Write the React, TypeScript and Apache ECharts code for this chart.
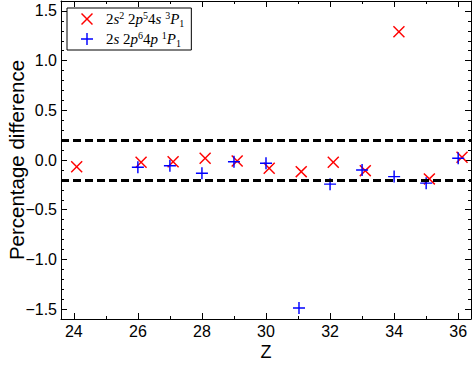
import React, { useEffect, useRef } from "react";
import * as echarts from "echarts";

// Data
const redZ = [24.09, 26.1, 27.1, 28.1, 29.1, 30.1, 31.1, 32.1, 33.1, 34.15, 35.1, 36.12];
const redVals = [-0.067, -0.023, -0.017, 0.017, -0.01, -0.083, -0.117, -0.023, -0.107, 1.29, -0.19, 0.027];
const blueZ = [26.0, 27.0, 28.0, 29.0, 30.0, 31.03, 32.0, 33.0, 34.0, 35.0, 36.0];
const blueVals = [-0.073, -0.057, -0.133, -0.017, -0.033, -1.49, -0.243, -0.1, -0.167, -0.233, 0.017];
const thresholds = [0.2, -0.2];

// Tick labels
const xTicks = [24, 26, 28, 30, 32, 34, 36];
const yTicks = [-1.5, -1.0, -0.5, 0.0, 0.5, 1.0, 1.5];
const xMinorTicks = [24, 25, 26, 27, 28, 29, 30, 31, 32, 33, 34, 35, 36];
const yMinorTicks: number[] = [];
for (let k = -15; k <= 15; k++) yMinorTicks.push(k / 10);

const seriesNames = ["2s2 2p5 4s 3P1", "2s 2p6 4p 1P1"];

const X_PATH =
  "path://M0,0.85L0.85,0L5,4.15L9.15,0L10,0.85L5.85,5L10,9.15L9.15,10L5,5.85L0.85,10L0,9.15L4.15,5Z";
const PLUS_PATH =
  "path://M4.4,0h1.2v4.4h4.4v1.2h-4.4v4.4h-1.2v-4.4h-4.4v-1.2h4.4z";

const SANS = "Liberation Sans, Arial, sans-serif";
const SERIF = "Liberation Serif, Times New Roman, serif";

export default function App() {
  const ref = useRef<HTMLDivElement>(null);
  useEffect(() => {
    const chart = echarts.init(ref.current!, null, { renderer: "svg" });
    const fmtY = (v: number) => Number(v).toFixed(1).replace("-", "\u2212");
    const fmtX = (v: number) => String(Math.round(Number(v)));
    const axisLine = { show: true, onZero: false, lineStyle: { color: "#000", width: 1 } };
    const xBase = { type: "value", min: 23.6, max: 36.4, splitLine: { show: false } };
    const yBase = { type: "value", min: -1.6, max: 1.6, splitLine: { show: false } };
    const tick = (len: number, vals: number[]) => ({
      show: true,
      inside: true,
      length: len,
      customValues: vals,
      lineStyle: { color: "#000", width: 1 },
    });

    const rich = {
      n: { fontFamily: SERIF, fontSize: 15, color: "#000", lineHeight: 18 },
      i: { fontFamily: SERIF, fontSize: 15, fontStyle: "italic", color: "#000", lineHeight: 18 },
      sup: { fontFamily: SERIF, fontSize: 10, color: "#000", verticalAlign: "top", lineHeight: 18, padding: [0, 0, 5, 0] },
      sub: { fontFamily: SERIF, fontSize: 10, color: "#000", verticalAlign: "bottom", lineHeight: 18, padding: [4, 0, 0, 0] },
    };
    const legendText: Record<string, string> = {
      [seriesNames[0]]: "{n|2}{i|s}{sup|2}{n| 2}{i|p}{sup|5}{n|4}{i|s}{n| }{sup|3}{i|P}{sub|1}",
      [seriesNames[1]]: "{n|2}{i|s}{n| 2}{i|p}{sup|6}{n|4}{i|p}{n| }{sup|1}{i|P}{sub|1}",
    };

    chart.setOption({
      animation: false,
      backgroundColor: "#fff",
      grid: { left: 61, right: 3, top: 1, bottom: 51, containLabel: false, outerBoundsMode: "none" },
      legend: {
        left: 67,
        top: 8,
        orient: "vertical",
        borderColor: "#000",
        borderWidth: 1,
        backgroundColor: "#fff",
        borderRadius: 0,
        padding: [2, 7, 2, 14],
        itemGap: 2,
        itemWidth: 12,
        itemHeight: 12,
        formatter: (name: string) => legendText[name] || name,
        textStyle: { rich, padding: [0, 0, 0, 8] },
        data: seriesNames,
      },
      xAxis: [
        {
          ...xBase,
          position: "bottom",
          axisLine,
          axisTick: tick(6, xTicks),
          axisLabel: {
            customValues: xTicks,
            formatter: fmtX,
            fontFamily: SANS,
            fontSize: 16,
            color: "#000",
            margin: 4,
          },
          name: "Z",
          nameLocation: "middle",
          nameGap: 24,
          nameMoveOverlap: false,
          nameTextStyle: { fontFamily: SANS, fontSize: 18, color: "#000" },
        },
        { ...xBase, position: "bottom", axisLine: { show: false, onZero: false }, axisTick: tick(3, xMinorTicks), axisLabel: { show: false } },
        { ...xBase, position: "top", axisLine, axisTick: tick(6, xTicks), axisLabel: { show: false } },
        { ...xBase, position: "top", axisLine: { show: false, onZero: false }, axisTick: tick(3, xMinorTicks), axisLabel: { show: false } },
      ],
      yAxis: [
        {
          ...yBase,
          position: "left",
          axisLine,
          axisTick: tick(6, yTicks),
          axisLabel: {
            customValues: yTicks,
            formatter: fmtY,
            fontFamily: SANS,
            fontSize: 16,
            color: "#000",
            margin: 4,
          },
          name: "Percentage difference",
          nameLocation: "middle",
          nameRotate: 90,
          nameGap: 34,
          nameMoveOverlap: false,
          nameTextStyle: { fontFamily: SANS, fontSize: 20.5, color: "#000" },
        },
        { ...yBase, position: "left", axisLine: { show: false, onZero: false }, axisTick: tick(3, yMinorTicks), axisLabel: { show: false } },
        { ...yBase, position: "right", axisLine, axisTick: tick(6, yTicks), axisLabel: { show: false } },
        { ...yBase, position: "right", axisLine: { show: false, onZero: false }, axisTick: tick(3, yMinorTicks), axisLabel: { show: false } },
      ],
      series: [
        {
          name: seriesNames[0],
          type: "scatter",
          xAxisIndex: 0,
          yAxisIndex: 0,
          symbol: X_PATH,
          symbolSize: 12,
          itemStyle: { color: "#ff0000", opacity: 1 },
          data: redZ.map((z, k) => [z, redVals[k]]),
          z: 3,
        },
        {
          name: seriesNames[1],
          type: "scatter",
          xAxisIndex: 0,
          yAxisIndex: 0,
          symbol: PLUS_PATH,
          symbolSize: 12,
          itemStyle: { color: "#0000ff", opacity: 1 },
          data: blueZ.map((z, k) => [z, blueVals[k]]),
          z: 4,
        },
        {
          name: "thresholds",
          type: "line",
          xAxisIndex: 0,
          yAxisIndex: 0,
          data: [],
          silent: true,
          z: 2,
          markLine: {
            silent: true,
            symbol: "none",
            label: { show: false },
            lineStyle: { color: "#000", width: 3, type: [8, 4] },
            data: thresholds.map((t) => ({ yAxis: t })),
          },
        },
      ],
    });
    return () => chart.dispose();
  }, []);
  return <div ref={ref} style={{ width: 474, height: 370, position: "absolute", left: 0, top: 0 }} />;
}
